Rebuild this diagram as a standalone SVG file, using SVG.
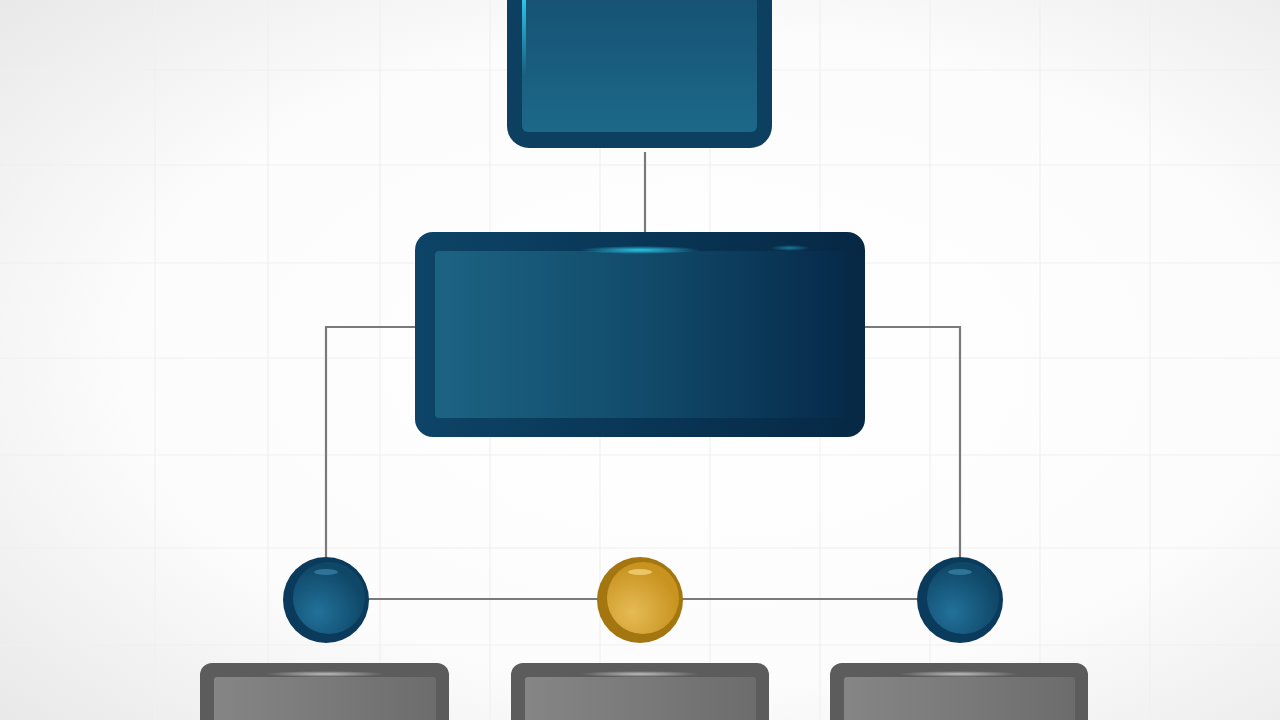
<svg xmlns="http://www.w3.org/2000/svg" width="1280" height="720" viewBox="0 0 1280 720">
<defs>
<radialGradient id="bg" cx="0.55" cy="0.5" r="0.75">
<stop offset="0" stop-color="#ffffff"/>
<stop offset="0.6" stop-color="#fcfcfc"/>
<stop offset="1" stop-color="#e8e8e8"/>
</radialGradient>
<linearGradient id="topInner" x1="0" y1="0" x2="0" y2="1">
<stop offset="0" stop-color="#165172"/>
<stop offset="1" stop-color="#1c6889"/>
</linearGradient>
<linearGradient id="midInner" x1="0" y1="0" x2="1" y2="0">
<stop offset="0" stop-color="#1c6383"/>
<stop offset="0.5" stop-color="#124b6b"/>
<stop offset="1" stop-color="#062a4a"/>
</linearGradient>
<linearGradient id="midOuter" x1="0" y1="0" x2="1" y2="0">
<stop offset="0" stop-color="#0d4467"/>
<stop offset="1" stop-color="#062844"/>
</linearGradient>
<radialGradient id="glow" cx="0.5" cy="0.5" r="0.5">
<stop offset="0" stop-color="#2fd0f0" stop-opacity="0.95"/>
<stop offset="1" stop-color="#2fd0f0" stop-opacity="0"/>
</radialGradient>
<linearGradient id="sideGlow" x1="0" y1="0" x2="0" y2="1">
<stop offset="0" stop-color="#33d2f5"/>
<stop offset="1" stop-color="#33d2f5" stop-opacity="0"/>
</linearGradient>
<radialGradient id="blueBall" cx="0.35" cy="0.7" r="0.65">
<stop offset="0" stop-color="#22719a"/>
<stop offset="1" stop-color="#0f4767"/>
</radialGradient>
<radialGradient id="goldBall" cx="0.35" cy="0.7" r="0.65">
<stop offset="0" stop-color="#e6bb55"/>
<stop offset="1" stop-color="#c8931f"/>
</radialGradient>
<linearGradient id="grayInner" x1="0" y1="0" x2="1" y2="0">
<stop offset="0" stop-color="#858585"/>
<stop offset="0.5" stop-color="#7a7a7a"/>
<stop offset="1" stop-color="#6c6c6c"/>
</linearGradient>
<radialGradient id="grayGlow" cx="0.5" cy="0.5" r="0.5">
<stop offset="0" stop-color="#bdbdbd"/>
<stop offset="1" stop-color="#bdbdbd" stop-opacity="0"/>
</radialGradient>
</defs>
<style>
.grid line{stroke:#f0f0f0;stroke-width:1.2}
.conn{stroke:#7a7a7a;stroke-width:2.2;fill:none}
.blueRim{fill:#0b3b5c}
.goldRim{fill:#a4760f}
.grayOuter{fill:#5c5c5c}
</style>
<rect width="1280" height="720" fill="url(#bg)"/>
<g class="grid">
<line x1="155" y1="0" x2="155" y2="720"/>
<line x1="268" y1="0" x2="268" y2="720"/>
<line x1="380" y1="0" x2="380" y2="720"/>
<line x1="490" y1="0" x2="490" y2="720"/>
<line x1="600" y1="0" x2="600" y2="720"/>
<line x1="710" y1="0" x2="710" y2="720"/>
<line x1="820" y1="0" x2="820" y2="720"/>
<line x1="930" y1="0" x2="930" y2="720"/>
<line x1="1040" y1="0" x2="1040" y2="720"/>
<line x1="1150" y1="0" x2="1150" y2="720"/>
<line x1="0" y1="70" x2="1280" y2="70"/>
<line x1="0" y1="165" x2="1280" y2="165"/>
<line x1="0" y1="263" x2="1280" y2="263"/>
<line x1="0" y1="358" x2="1280" y2="358"/>
<line x1="0" y1="455" x2="1280" y2="455"/>
<line x1="0" y1="548" x2="1280" y2="548"/>
<line x1="0" y1="645" x2="1280" y2="645"/>
</g>
<g id="connectors">
<line class="conn" x1="645" y1="152" x2="645" y2="232"/>
<polyline class="conn" points="415,327 326,327 326,558"/>
<polyline class="conn" points="865,327 960,327 960,558"/>
<line class="conn" x1="368" y1="599" x2="918" y2="599"/>
</g>
<g id="top-box">
<rect x="507" y="-20" width="265" height="168" rx="22" fill="#0c3f60"/>
<rect x="522" y="-10" width="235" height="142" rx="6" fill="url(#topInner)"/>
<rect x="522" y="-10" width="4" height="85" fill="url(#sideGlow)"/>
</g>
<g id="middle-box">
<rect x="415" y="232" width="450" height="205" rx="18" fill="url(#midOuter)"/>
<rect x="435" y="251" width="411" height="167" rx="4" fill="url(#midInner)"/>
<ellipse cx="640" cy="250" rx="60" ry="4" fill="url(#glow)"/>
<ellipse cx="790" cy="248" rx="20" ry="3" fill="url(#glow)" opacity="0.5"/>
</g>
<g id="circle-left">
<circle cx="326" cy="600" r="43" class="blueRim"/>
<circle cx="329" cy="598" r="36" fill="url(#blueBall)"/>
<ellipse cx="326" cy="572" rx="12" ry="3" fill="#3c86aa" opacity="0.7"/>
</g>
<g id="circle-center">
<circle cx="640" cy="600" r="43" class="goldRim"/>
<circle cx="643" cy="598" r="36" fill="url(#goldBall)"/>
<ellipse cx="640" cy="572" rx="12" ry="3" fill="#f2d27a" opacity="0.8"/>
</g>
<g id="circle-right">
<circle cx="960" cy="600" r="43" class="blueRim"/>
<circle cx="963" cy="598" r="36" fill="url(#blueBall)"/>
<ellipse cx="960" cy="572" rx="12" ry="3" fill="#3c86aa" opacity="0.7"/>
</g>
<g id="gray-box-left">
<rect x="200" y="663" width="249" height="80" rx="12" class="grayOuter"/>
<rect x="214" y="677" width="222" height="60" rx="3" fill="url(#grayInner)"/>
<ellipse cx="325" cy="674" rx="60" ry="3" fill="url(#grayGlow)"/>
</g>
<g id="gray-box-center">
<rect x="511" y="663" width="258" height="80" rx="12" class="grayOuter"/>
<rect x="525" y="677" width="231" height="60" rx="3" fill="url(#grayInner)"/>
<ellipse cx="640" cy="674" rx="60" ry="3" fill="url(#grayGlow)"/>
</g>
<g id="gray-box-right">
<rect x="830" y="663" width="258" height="80" rx="12" class="grayOuter"/>
<rect x="844" y="677" width="231" height="60" rx="3" fill="url(#grayInner)"/>
<ellipse cx="959" cy="674" rx="60" ry="3" fill="url(#grayGlow)"/>
</g>
</svg>
